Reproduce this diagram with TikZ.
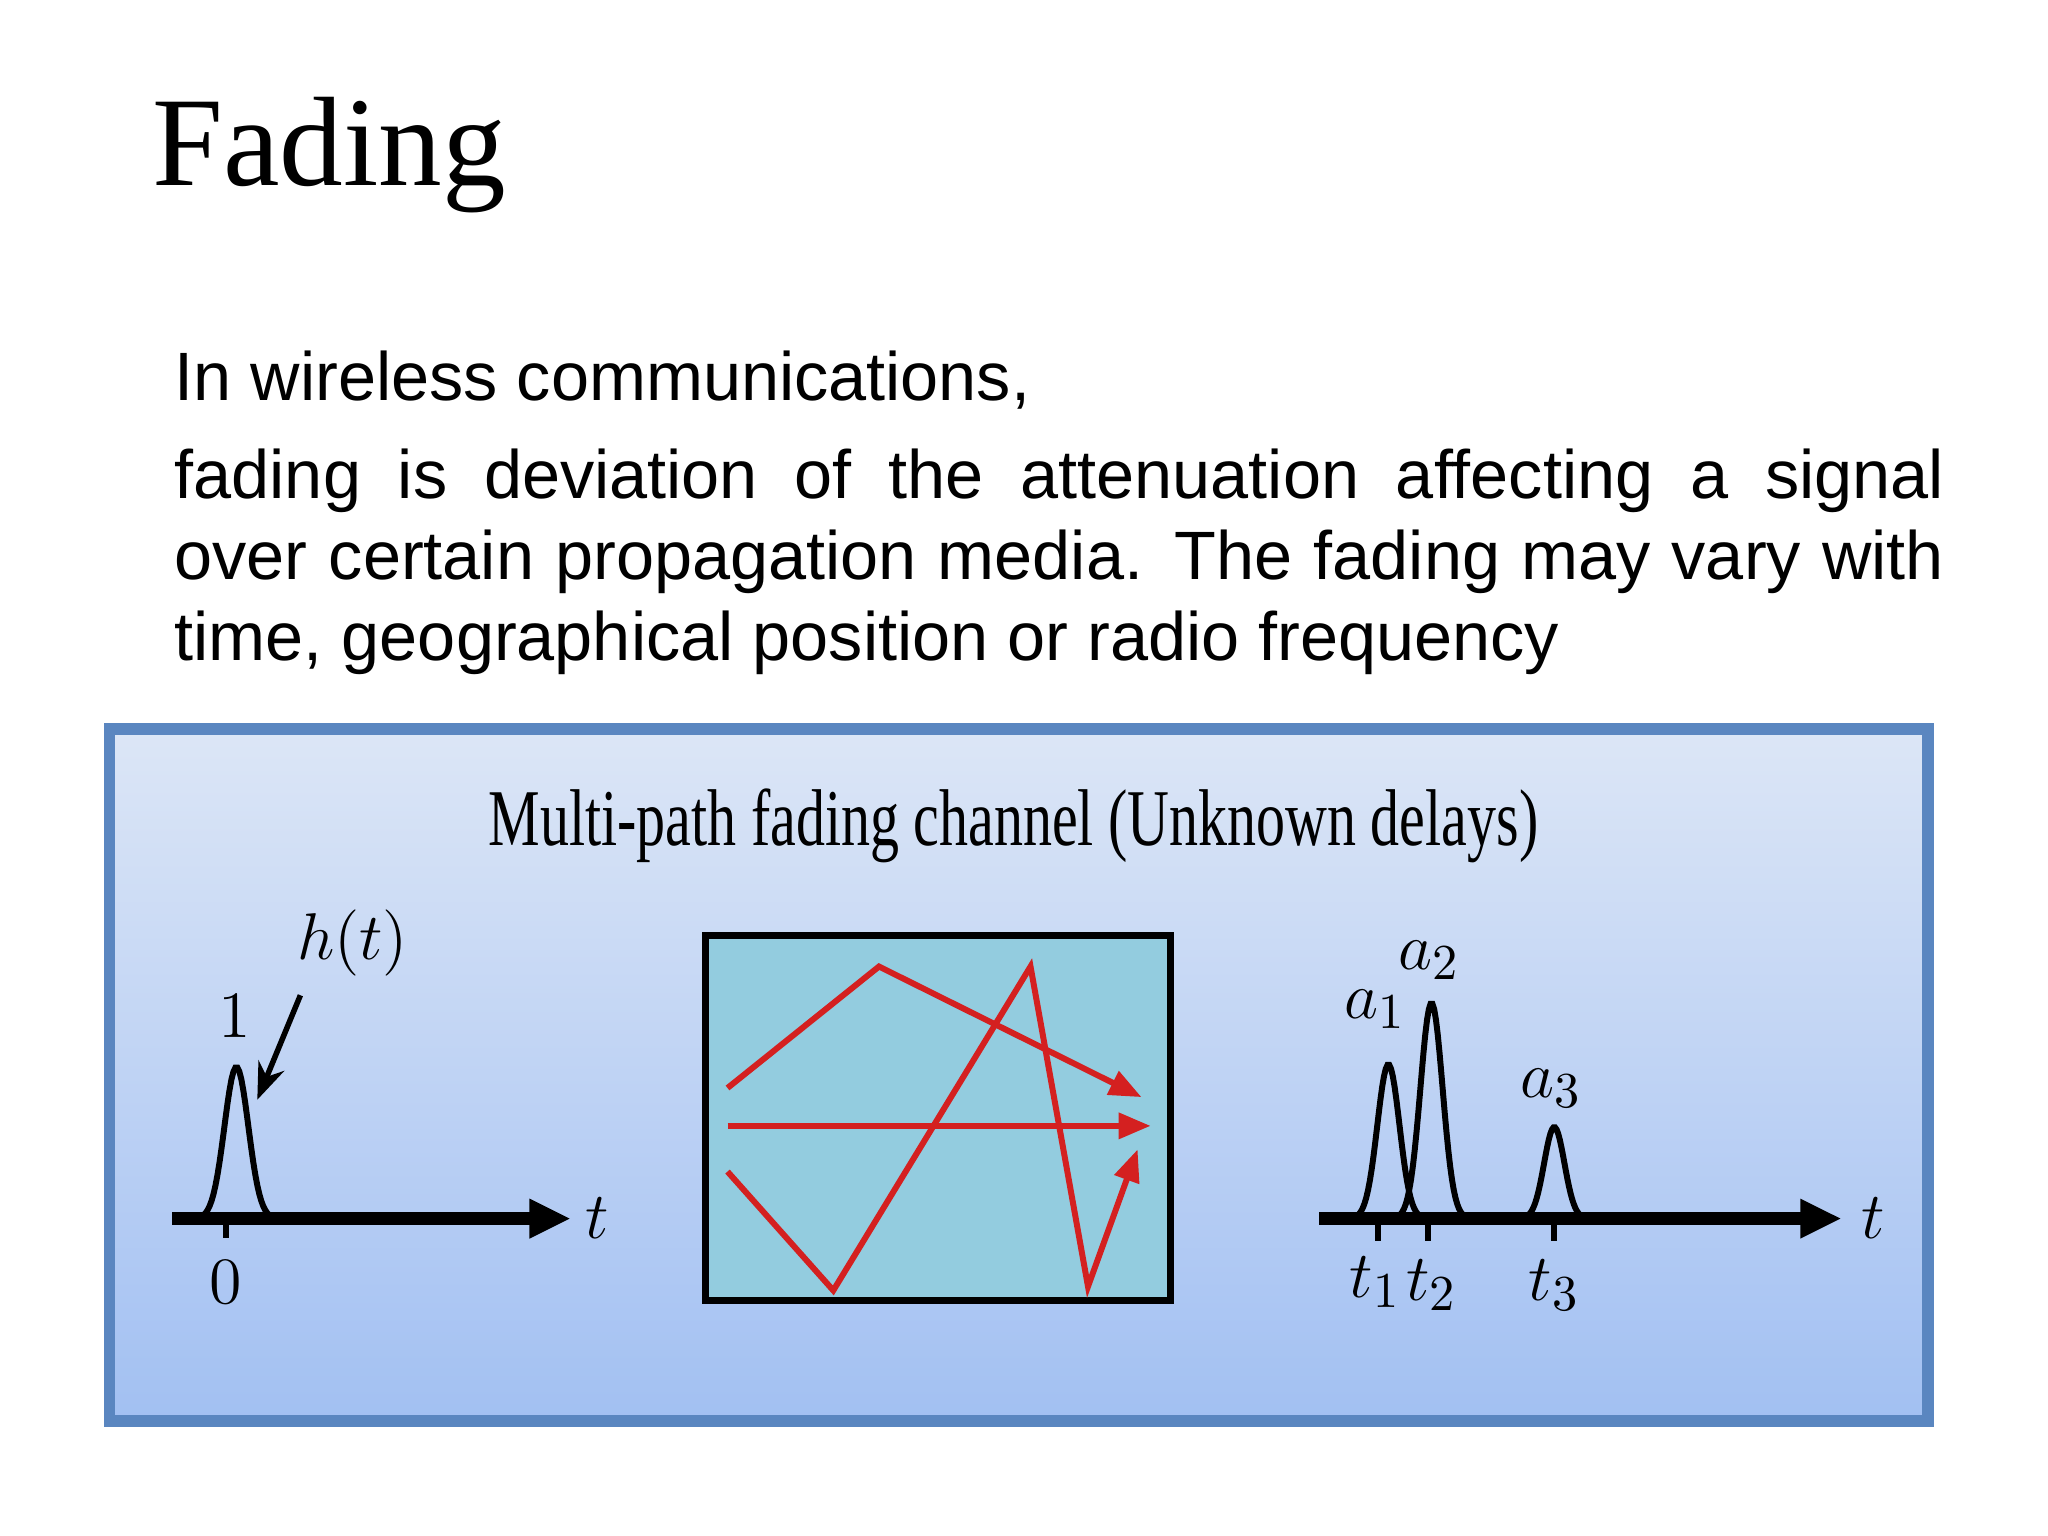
\documentclass[tikz,border=0pt]{standalone}
\usepackage{fontspec}
\usepackage{graphicx}
\setmainfont{Liberation Serif}
\newfontfamily\bodyfont{Liberation Sans}
\usetikzlibrary{arrows.meta}
\definecolor{boxborder}{HTML}{5A86C0}
\definecolor{boxtop}{HTML}{DCE6F6}
\definecolor{boxbot}{HTML}{A2C0F2}
\definecolor{chan}{HTML}{93CCDF}
\definecolor{ray}{HTML}{D42020}
\tikzset{
  axis/.style={line width=3pt,-{Triangle[length=9pt,width=8pt]}},
  pulse/.style={line width=1.3pt},
  rayline/.style={ray,line width=1.3pt},
  rayarrow/.style={rayline,-{Triangle[length=7pt,width=5.5pt]}},
  lbl/.style={font=\fontsize{15}{18}\selectfont,inner sep=1pt},
}
\begin{document}
\begin{tikzpicture}[x=0.01cm,y=-0.01cm]
\useasboundingbox (0,0) rectangle (1568,1176);
\fill[white] (0,0) rectangle (1568,1176);
\node[anchor=base west,inner sep=0,font=\fontsize{27.7}{32}\selectfont] (title) at (116,142) {Fading};
\node[anchor=base west,inner sep=0,font=\bodyfont\fontsize{14.9}{17}\selectfont] (intro) at (133,307) {In wireless communications,};
\node[anchor=north west,inner sep=0,text width=13.54cm,align=justify,font=\bodyfont\fontsize{14.9}{17.6}\selectfont] (para) at (133,343) {fading is deviation of the attenuation affecting a signal\linebreak over certain propagation media. The fading may vary with\linebreak time, geographical position or radio frequency};
\shade[top color=boxtop,bottom color=boxbot] (84,558) rectangle (1476,1088);
\draw[boxborder,line width=2.5pt] (84,558) rectangle (1476,1088);
\node[inner sep=0] (btitle) at (776,632) {\resizebox{8.03cm}{!}{\scalebox{0.72}[1]{\fontsize{26}{30}\selectfont Multi-path fading channel (Unknown delays)}}};
% left plot
\coordinate (la) at (132,933); \coordinate (lb) at (437,933);
\draw[axis] (la) -- (lb);
\node[lbl] (lt) at (457,933) {$t$};
\draw[line width=1.3pt] (173,933) -- (173,948);
\node[lbl] (l0) at (173,982) {$0$};
\draw[pulse] plot[domain=-45:45,samples=60] ({181+\x},{933-116*exp(-(\x/13)^2)});
\node[lbl] (l1) at (180,778) {$1$};
\node[lbl] (lh) at (270,722) {$h(t)$};
\coordinate (ha) at (230,762); \coordinate (hb) at (197,842);
\draw[line width=1.2pt,-{Stealth[length=8pt]}] (ha) -- (hb);
% channel
\draw[fill=chan,line width=1.5pt] (540,716) rectangle (896,996);
\coordinate (r1) at (557,833); \coordinate (r1b) at (673,740); \coordinate (r1c) at (874,840);
\draw[rayarrow] (r1) -- (r1b) -- (r1c);
\coordinate (r2) at (557,862); \coordinate (r2b) at (881,862);
\draw[rayarrow] (r2) -- (r2b);
\coordinate (r3) at (557,897); \coordinate (r3b) at (638,988); \coordinate (r3c) at (789,740); \coordinate (r3d) at (833,985); \coordinate (r3e) at (871,880);
\draw[rayarrow] (r3) -- (r3b) -- (r3c) -- (r3d) -- (r3e);
% right plot
\coordinate (ra) at (1010,933); \coordinate (rb) at (1410,933);
\draw[axis] (ra) -- (rb);
\node[lbl] (rt) at (1434,933) {$t$};
\foreach \c in {1055,1093,1190} \draw[line width=1.3pt] (\c,933) -- (\c,950);
\draw[pulse] plot[domain=-40:40,samples=60] ({1063+\x},{933-118*exp(-(\x/12)^2)});
\draw[pulse] plot[domain=-40:40,samples=60] ({1096+\x},{933-165*exp(-(\x/12)^2)});
\draw[pulse] plot[domain=-35:35,samples=60] ({1190+\x},{933-70*exp(-(\x/11)^2)});
\node[lbl] (a1) at (1053,773) {$a_1$};
\node[lbl] (a2) at (1094,735) {$a_2$};
\node[lbl] (a3) at (1188,833) {$a_3$};
\node[lbl] (t1) at (1053,982) {$t_1$};
\node[lbl] (t2) at (1096,984) {$t_2$};
\node[lbl] (t3) at (1190,984) {$t_3$};
\end{tikzpicture}
\end{document}
